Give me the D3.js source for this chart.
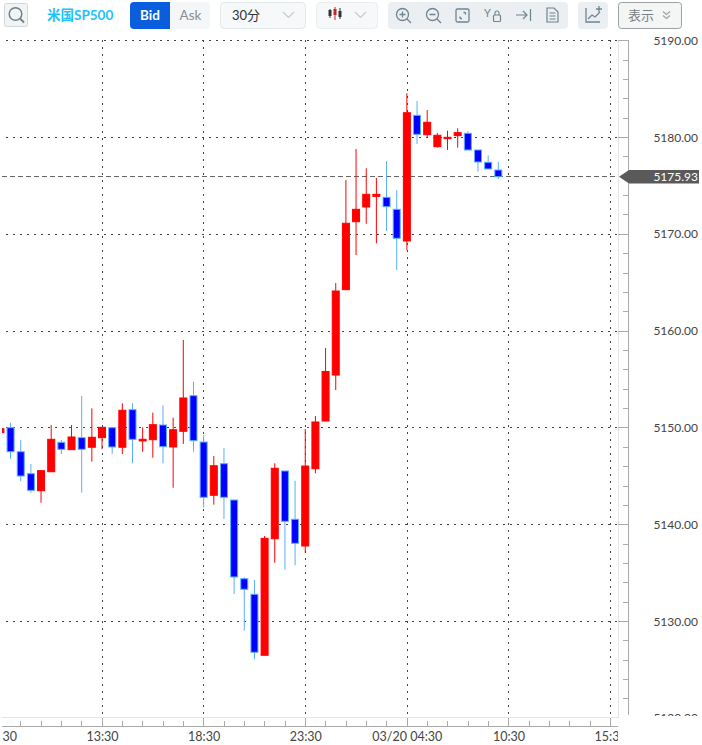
<!DOCTYPE html>
<html><head><meta charset="utf-8">
<script src="https://cdn.jsdelivr.net/npm/d3@7"></script>
<style>html,body{margin:0;padding:0;background:#fff;overflow:hidden}svg{display:block}text{font-family:Lato,"Noto Sans CJK JP",sans-serif}</style>
</head><body><svg id="c" width="702" height="745"></svg>
<script>
const opens =[5149.5,5150.0,5147.52,5145.25,5143.49,5145.45,5148.49,5147.73,5148.97,5147.98,5148.97,5150.0,5147.98,5151.86,5148.63,5148.76,5150.28,5148.01,5149.63,5153.31,5148.52,5143.02,5146.28,5142.53,5134.4,5132.79,5126.49,5138.53,5145.53,5140.54,5137.78,5145.76,5150.69,5155.44,5164.26,5171.28,5172.8,5173.9,5173.8,5172.56,5169.29,5182.27,5180.27,5179.03,5179.86,5180.17,5180.41,5178.69,5177.42,5176.62];
const closes=[5149.9,5147.52,5145.01,5143.53,5145.56,5148.8,5147.77,5149.04,5147.77,5149.01,5150.04,5148.01,5151.8,5148.8,5148.8,5150.31,5148.04,5149.79,5153.07,5148.66,5142.81,5146.07,5142.81,5134.58,5133.31,5126.8,5138.57,5145.81,5140.33,5138.06,5146.04,5150.59,5155.81,5164.12,5171.12,5172.56,5174.11,5174.11,5172.83,5169.57,5182.54,5180.31,5181.55,5180.21,5180.0,5180.48,5178.69,5177.45,5176.73,5175.93];
const highs =[5150.4,5150.52,5148.73,5146.25,5145.56,5150.28,5148.73,5150.28,5153.27,5152.0,5150.04,5150.0,5152.52,5152.52,5150.04,5151.55,5152.31,5151.03,5159.06,5154.75,5149.25,5147.08,5147.9,5142.53,5134.55,5134.27,5138.81,5146.32,5145.53,5144.52,5149.87,5151.21,5158.23,5164.95,5175.59,5178.79,5176.8,5175.8,5177.55,5174.56,5184.55,5183.75,5182.82,5180.44,5180.68,5180.93,5180.62,5178.69,5178.14,5177.45];
const lows  =[5149.5,5146.77,5144.49,5143.29,5142.25,5145.45,5147.28,5147.73,5143.29,5146.49,5147.77,5147.28,5147.28,5146.32,5147.52,5146.9,5146.32,5143.8,5148.32,5147.52,5141.76,5142.05,5140.57,5132.82,5129.03,5126.07,5126.49,5136.05,5135.33,5135.79,5137.09,5145.29,5150.69,5153.89,5164.26,5167.84,5171.07,5169.05,5170.32,5166.29,5168.33,5179.31,5180.0,5178.93,5178.69,5178.93,5178.69,5176.45,5176.73,5175.69];
const priceTicks=[5120,5130,5140,5150,5160,5170,5180,5190];
const minorPriceTicks=d3.range(5122,5190,2).filter(v=>v%10!==0);
const timeTickIdx=[0,10,20,30,40,50,60];
const timeTickLabels=["08:30","13:30","18:30","23:30","03/20 04:30","10:30","15:30"];
const lastPrice=5175.93;
const upColor="#ff0000",downColor="#0000ff",downEdge="#5aaeff";

const L=2,R=618,T=36,B=716;
const x=d3.scaleLinear().domain([0,60]).range([0.4,610.1]);
const y=d3.scaleLinear().domain([5130,5180]).range([621.3,137.3]);
const svg=d3.select("#c");
const px=v=>Math.floor(v+.25)+.5;
const defs=svg.append("defs");
defs.append("clipPath").attr("id","plot").append("rect").attr("x",L).attr("y",T).attr("width",R-L).attr("height",B-T);
defs.append("clipPath").attr("id","xlab").append("rect").attr("x",L).attr("y",727).attr("width",R-L).attr("height",18);
defs.append("clipPath").attr("id","ylab").append("rect").attr("x",630).attr("y",T).attr("width",72).attr("height",B-T);

// grid
const g=svg.append("g");
g.selectAll(".h").data(priceTicks.filter(v=>v>5120)).join("line").attr("x1",L+4).attr("x2",R)
 .attr("y1",d=>px(y(d))).attr("y2",d=>px(y(d))).attr("stroke","#444").attr("stroke-dasharray","2 5");
g.selectAll(".v").data(timeTickIdx.slice(1)).join("line").attr("y1",40).attr("y2",717)
 .attr("x1",d=>px(x(d))).attr("x2",d=>px(x(d))).attr("stroke","#444").attr("stroke-dasharray","2 5");

// axis frames
g.append("line").attr("x1",618.5).attr("x2",618.5).attr("y1",40).attr("y2",718).attr("stroke","#e4e4e4");
g.append("line").attr("x1",2).attr("x2",618).attr("y1",717.5).attr("y2",717.5).attr("stroke","#e4e4e4");
g.append("line").attr("x1",628.5).attr("x2",628.5).attr("y1",40).attr("y2",715).attr("stroke","#aaa");
g.append("line").attr("x1",2).attr("x2",618).attr("y1",726.5).attr("y2",726.5).attr("stroke","#aaa");
g.selectAll(".pt").data(priceTicks.filter(v=>v>5120)).join("line").attr("x1",618).attr("x2",628)
 .attr("y1",d=>px(y(d))).attr("y2",d=>px(y(d))).attr("stroke","#aaa");
g.selectAll(".pm").data(minorPriceTicks).join("line").attr("x1",623).attr("x2",628)
 .attr("y1",d=>px(y(d))).attr("y2",d=>px(y(d))).attr("stroke","#aaa");
g.selectAll(".tm").data(d3.range(2,62,2).filter(d=>d%10!==0)).join("line").attr("y1",721).attr("y2",726)
 .attr("x1",d=>px(x(d))).attr("x2",d=>px(x(d))).attr("stroke","#aaa");
g.selectAll(".tM").data(timeTickIdx.slice(1)).join("line").attr("y1",718).attr("y2",726)
 .attr("x1",d=>px(x(d))).attr("x2",d=>px(x(d))).attr("stroke","#aaa");

// last price line
g.append("line").attr("x1",L).attr("x2",R).attr("y1",px(y(lastPrice))).attr("y2",px(y(lastPrice)))
 .attr("stroke","#666").attr("stroke-dasharray","5 3");

// candles
const data=opens.map((o,i)=>({i,o,c:closes[i],h:highs[i],l:lows[i],up:closes[i]>=o}));
const cg=svg.append("g").attr("clip-path","url(#plot)");
cg.selectAll(".w").data(data).join("line").attr("x1",d=>x(d.i)).attr("x2",d=>x(d.i))
 .attr("y1",d=>y(d.h)).attr("y2",d=>y(d.l)).attr("stroke",d=>d.up?upColor:downEdge).attr("stroke-width",1);
cg.selectAll(".b").data(data).join("rect").attr("x",d=>x(d.i)-3.5).attr("width",7)
 .attr("y",d=>y(Math.max(d.o,d.c))).attr("height",d=>Math.max(1,Math.abs(y(d.o)-y(d.c))))
 .attr("fill",d=>d.up?upColor:downColor).attr("stroke",d=>d.up?upColor:downEdge).attr("stroke-width",1);

// price labels
const yl=svg.append("g").attr("clip-path","url(#ylab)");
yl.selectAll("text").data(priceTicks).join("text").attr("x",698).attr("y",d=>y(d)+4.3)
 .attr("text-anchor","end").attr("font-size",12).attr("fill","#444").text(d=>d.toFixed(2));
const ly=y(lastPrice);
svg.append("path").attr("d",d3.line()([[619,ly],[629,ly-6.7],[699,ly-6.7],[699,ly+6.7],[629,ly+6.7]])+"Z").attr("fill","#5a5a5a");
svg.append("text").attr("x",698).attr("y",ly+4.3).attr("text-anchor","end").attr("font-size",12).attr("fill","#fff").text(lastPrice.toFixed(2));

// time labels
const xl=svg.append("g").attr("clip-path","url(#xlab)");
xl.selectAll("text").data(timeTickIdx).join("text").attr("x",d=>x(d)+.5).attr("y",741)
 .attr("text-anchor","middle").attr("font-size",12.5).attr("fill","#444").text((d,i)=>timeTickLabels[i]);

// toolbar
const tb=svg.append("g");
function rect(x0,y0,w,h,fill,stroke,r){return tb.append("rect").attr("x",x0).attr("y",y0).attr("width",w).attr("height",h).attr("fill",fill).attr("stroke",stroke||"none").attr("rx",r||0);}
function txt(x0,y0,s,size,fill,weight,anchor){return tb.append("text").attr("x",x0).attr("y",y0).attr("font-size",size).attr("fill",fill).attr("font-weight",weight||400).attr("text-anchor",anchor||"start").text(s);}
function path(d,stroke,w,fill){return tb.append("path").attr("d",d).attr("fill",fill||"none").attr("stroke",stroke).attr("stroke-width",w||1.3);}
const ic="#6f8590";
rect(4.5,3.5,23,23,"#f1f4f5","#cfd9dd",2);
tb.append("circle").attr("cx",15.5).attr("cy",14).attr("r",6.3).attr("fill","none").attr("stroke","#6f8088").attr("stroke-width",1.5);
path("M20 18.5l4 4","#6f8088",1.8);
txt(47,20,"米国SP500",13.5,"#1cc3fb",700);
tb.append("path").attr("d","M134 2h36v27h-36a4 4 0 0 1-4-4v-19a4 4 0 0 1 4-4z").attr("fill","#0a5edb");
tb.append("path").attr("d","M170 2h36a4 4 0 0 1 4 4v19a4 4 0 0 1-4 4h-36z").attr("fill","#f4f6f7");
txt(150,20,"Bid",13.5,"#fff",700,"middle");
txt(190.5,20,"Ask",13.5,"#8a8f94",400,"middle");
rect(220.5,2.5,85,26,"#f6f8f9","#e1e8ea",4);
txt(232,20,"30分",13,"#333");
path("M283 12l5.5 5.5 5.5-5.5","#c4cbcf",1.2);
rect(316.5,2.5,61,26,"#f6f8f9","#e8edef",4);
[[330,9,18,10,16,"#333"],[335,7,20,9,15,"#c0262a"],[340,8,19,11,17,"#333"]].forEach(a=>{
 path(`M${a[0]} ${a[1]}V${a[2]}`,a[5],1);rect(a[0]-1.5,a[3],3,a[4]-a[3],a[5]);});
path("M355 12l5.5 5.5 5.5-5.5","#c4cbcf",1.2);
rect(388,2,180,27,"#ebeff1",null,4);
tb.append("circle").attr("cx",402.5).attr("cy",14.5).attr("r",6).attr("fill","none").attr("stroke",ic).attr("stroke-width",1.3);
path("M407 19l4 4M399.5 14.5h6M402.5 11.5v6",ic);
tb.append("circle").attr("cx",432.5).attr("cy",14.5).attr("r",6).attr("fill","none").attr("stroke",ic).attr("stroke-width",1.3);
path("M437 19l4 4M429.5 14.5h6",ic);
tb.append("rect").attr("x",456).attr("y",9).attr("width",13).attr("height",13).attr("rx",1.5).attr("fill","none").attr("stroke",ic).attr("stroke-width",1.3);
path("M460 18.5v-2M460 18.5h2M465.5 12.5h-2M465.5 12.5v2",ic);
txt(484,17,"Y",11,ic);
tb.append("rect").attr("x",493.5).attr("y",15).attr("width",7).attr("height",6.5).attr("rx",1).attr("fill","none").attr("stroke",ic).attr("stroke-width",1.2);
path("M495 15v-2a2 2 0 0 1 4 0v2",ic,1.1);
path("M516 15h11M523 11l4 4-4 4M530.5 9v12",ic,1.2);
path("M547 8h7l4 4v10h-11zM549.5 13h6M549.5 16h6M549.5 19h6",ic,1.2);
rect(578,2,30,27,"#ebeff1",null,4);
path("M586 8v14h14M588 19l4-4 3 2 5-5M599 6v6M596 9h6",ic,1.3);
rect(618.5,2.5,63,26,"#f4f5f5","#9ba0a3",3);
txt(628,20,"表示",13,"#7a7f83");
path("M663 11.5l3.5 3 3.5-3M663 15.5l3.5 3 3.5-3","#9a9fa3",1.1);
</script></body></html>
